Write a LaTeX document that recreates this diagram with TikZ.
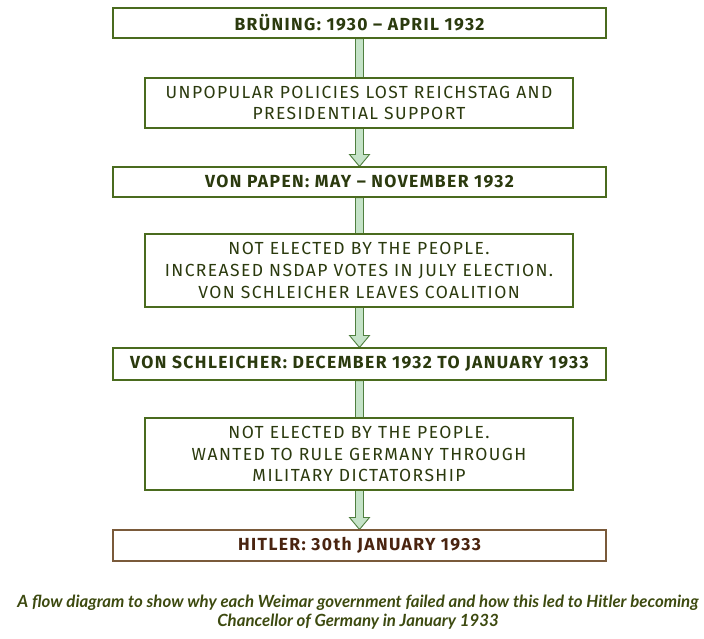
\documentclass[tikz,border=0pt]{standalone}
\usepackage{fontspec}
\usetikzlibrary{calc}
\newfontfamily\boxfont[LetterSpace=8]{Fira Sans}
\newfontfamily\capfont{Lato}
\definecolor{boxline}{HTML}{4A6B1E}
\definecolor{boxtext}{HTML}{2B3A0E}
\definecolor{arrfill}{HTML}{C5E3C8}
\definecolor{arrline}{HTML}{4F7F3F}
\definecolor{hitline}{HTML}{7A5A3A}
\definecolor{hittext}{HTML}{4A2410}
\definecolor{captext}{HTML}{3D4A10}
\pgfdeclarelayer{bg}
\pgfsetlayers{bg,main}
\tikzset{
  wide/.style={draw=boxline, fill=white, line width=1.1pt, minimum width=493pt, inner sep=0pt,
    text=boxtext, font=\boxfont\bfseries\fontsize{17.5}{20}\selectfont, align=center},
  narrow/.style={draw=boxline, fill=white, line width=1.1pt, minimum width=428pt, inner sep=0pt,
    text=boxtext, font=\boxfont\fontsize{17.5}{21.8}\selectfont, align=center},
  flowarrow/.style={fill=arrfill, draw=arrline, line width=0.9pt, line join=miter},
  caption/.style={text=captext, font=\capfont\bfseries\itshape\fontsize{16.8}{19}\selectfont, align=center, inner sep=0pt}
}
\begin{document}
\begin{tikzpicture}[x=1pt,y=1pt]
\useasboundingbox (0,0) rectangle (704,-638);
\node[wide, minimum height=30pt] (b1) at (359.5,-23) {BRÜNING: 1930 – APRIL 1932};
\node[narrow, minimum height=50pt] (b2) at (359,-103) {UNPOPULAR POLICIES LOST REICHSTAG AND\\PRESIDENTIAL SUPPORT};
\node[wide, minimum height=30pt] (b3) at (359.5,-182) {VON PAPEN: MAY – NOVEMBER 1932};
\node[narrow, minimum height=73pt] (b4) at (359,-270.5) {NOT ELECTED BY THE PEOPLE.\\INCREASED NSDAP VOTES IN JULY ELECTION.\\VON SCHLEICHER LEAVES COALITION};
\node[wide, minimum height=32pt] (b5) at (359.5,-364) {VON SCHLEICHER: DECEMBER 1932 TO JANUARY 1933};
\node[narrow, minimum height=72pt] (b6) at (359,-454) {NOT ELECTED BY THE PEOPLE.\\WANTED TO RULE GERMANY THROUGH\\MILITARY DICTATORSHIP};
\node[wide, minimum height=31pt, draw=hitline, text=hittext] (b7) at (359.5,-545.5) {HITLER: 30th JANUARY 1933};
\node[caption] (cap) at (358,-612) {A flow diagram to show why each Weimar government failed and how this led to Hitler becoming\\Chancellor of Germany in January 1933};
\begin{pgfonlayer}{bg}
\foreach \a/\b in {b1/b3, b3/b5, b5/b7}{
  \draw[flowarrow] ($(\a.south)+(-4,0)$) -- ($(\b.north)+(-4,12)$) -- ($(\b.north)+(-10,12)$) -- (\b.north)
    -- ($(\b.north)+(10,12)$) -- ($(\b.north)+(4,12)$) -- ($(\a.south)+(4,0)$) -- cycle;
}
\end{pgfonlayer}
\end{tikzpicture}
\end{document}
